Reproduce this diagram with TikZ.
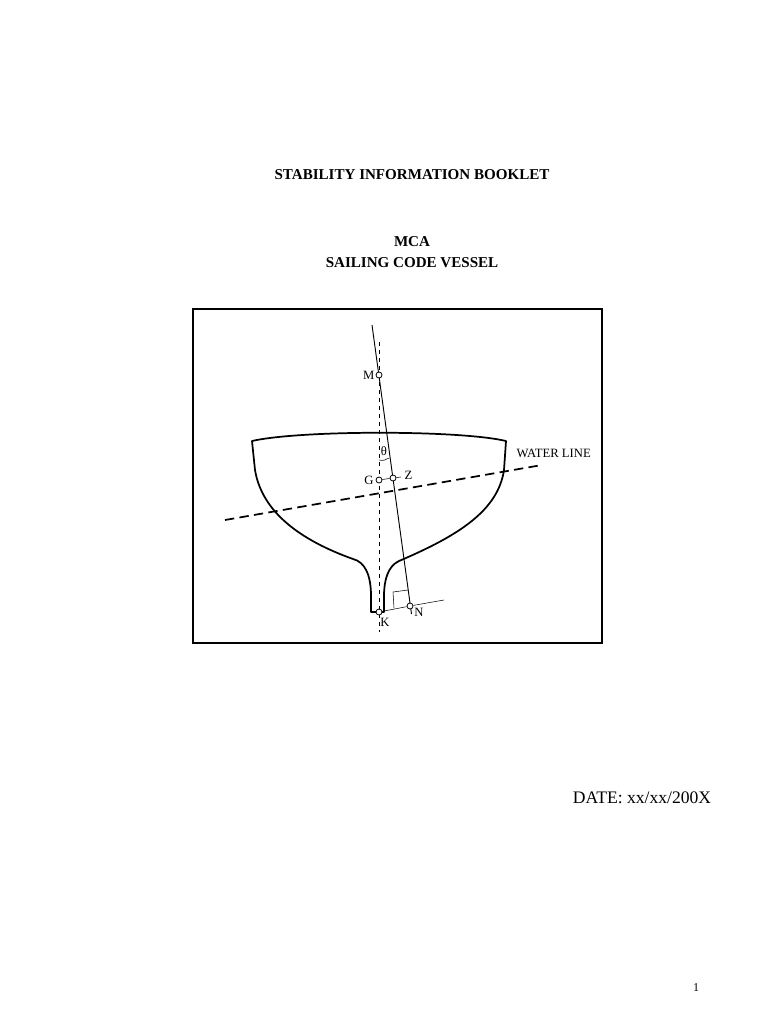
\documentclass[tikz,border=0pt]{standalone}
\usepackage{fontspec}
\setmainfont{Liberation Serif}
\begin{document}
\begin{tikzpicture}[x=0.75pt,y=-0.75pt,
  pt/.style={circle,draw,fill=white,inner sep=0pt,minimum size=4.5pt,line width=0.6pt},
  lbl/.style={font=\fontsize{9.5}{11}\selectfont,inner sep=1pt},
  hull/.style={line width=1.3pt,line join=round},
  ttl/.style={font=\bfseries\fontsize{11.3}{13}\selectfont}]
\useasboundingbox (0,0) rectangle (768,1024);
\node[ttl] (t1) at (412,175) {STABILITY INFORMATION BOOKLET};
\node[ttl] (t2) at (412,242) {MCA};
\node[ttl] (t3) at (412,263) {SAILING CODE VESSEL};
\draw[line width=1.2pt] (193,309) rectangle (602,643);
% hull
\draw[hull] (252,441) .. controls (300,430) and (460,430) .. (506,441)
  -- (504,470) .. controls (498,510) and (460,535) .. (399,561)
  .. controls (388,566) and (384,580) .. (384,596) -- (384,612) -- (371,612) -- (371,596)
  .. controls (371,575) and (365,562) .. (353,559)
  .. controls (300,540) and (262,512) .. (255,470) -- cycle;
% waterline
\draw[line width=1.3pt,dash pattern=on 7pt off 4pt] (225,520) -- (542,465);
\node[lbl,anchor=west] (wl) at (515,453) {WATER LINE};
% vertical centre line
\draw[dashed,line width=0.5pt] (379,342) -- (379,632);
% heeled line
\coordinate (top) at (372,325);
\coordinate (bot) at (411.5,614);
\draw[line width=0.7pt] (top) -- (bot);
\coordinate (kn) at (444,600);
\node[pt] (K) at (379,612) {};
\node[pt] (N) at (410,606) {};
\draw[line width=0.4pt] (K) -- (N) -- (kn);
\draw[line width=0.4pt] (408,590) -- (393,592) -- (394,608);
\node[pt] (M) at (379,375) {};
\node[pt] (G) at (379,480) {};
\node[pt] (Z) at (393,478) {};
\draw[line width=0.4pt] (G) -- (Z) -- (401,477);
\draw[line width=0.4pt] (379,460) .. controls (383,461) and (386,460) .. (389,458);
\node[lbl] (th) at (384,451) {θ};
\node[lbl,anchor=east] (Ml) at (376,375) {M};
\node[lbl,anchor=east] (Gl) at (375,480) {G};
\node[lbl,anchor=west] (Zl) at (403,475) {Z};
\node[lbl] (Kl) at (385,622) {K};
\node[lbl] (Nl) at (419,612) {N};
\node[font=\fontsize{13.2}{15}\selectfont] (date) at (642,798) {DATE: xx/xx/200X};
\node[font=\fontsize{9}{11}\selectfont] (pg) at (696,988) {1};
\end{tikzpicture}
\end{document}
